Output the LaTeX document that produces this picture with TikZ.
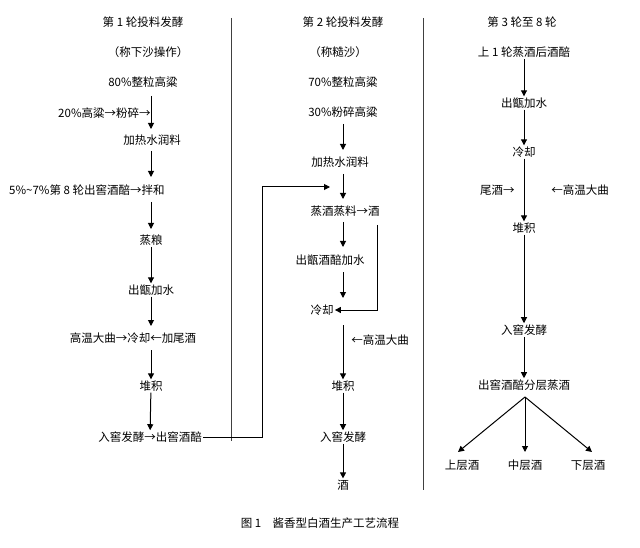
\documentclass[tikz,border=0pt]{standalone}
\usepackage{fontspec}
\setmainfont{Noto Sans CJK SC}
\usetikzlibrary{arrows.meta,positioning}
\begin{document}
\begin{tikzpicture}[x=1pt,y=-1pt, thick,
    lbl/.style = {inner sep=1pt, font=\fontsize{11.5}{13}\selectfont},
    flow/.style = {-{Triangle[length=6pt,width=6pt]}, line width=1pt},
    rule/.style = {line width=0.9pt, draw=black!75}]
    \useasboundingbox (0,0) rectangle (640,548);
    % column 1
    \node[lbl] (t1) at (143,22) {第 1 轮投料发酵};
    \node[lbl] (s1) at (148,52) {（称下沙操作）};
    \node[lbl] (a1) at (143,82) {80\%整粒高粱};
    \node[lbl, anchor=east] (f1) at (152,113) {20\%高粱→粉碎→};
    \node[lbl] (a2) at (152,140) {加热水润料};
    \node[lbl, anchor=east] (a3) at (166,190) {5\%\textasciitilde7\%第 8 轮出窖酒醅→拌和};
    \node[lbl] (a4) at (151,240) {蒸粮};
    \node[lbl] (a5) at (151,290) {出甑加水};
    \node[lbl] (a6) at (133,338) {高温大曲→冷却←加尾酒};
    \node[lbl] (a7) at (151,386) {堆积};
    \node[lbl] (a8) at (150,437) {入窖发酵→出窖酒醅};
    \draw[flow] (151,96) -- (151,129);
    \draw[flow] (151,151) -- (151,177);
    \draw[flow] (151,202) -- (151,229);
    \draw[flow] (a4) -- (a5);
    \draw[flow] (a5) -- (151,326);
    \draw[flow] (151,350) -- (a7);
    \draw[flow] (a7) -- (a8);
    % separators
    \draw[rule] (231,18) -- (231,441);
    \draw[rule] (423,18) -- (423,490);
    % column 2
    \node[lbl] (t2) at (343,22) {第 2 轮投料发酵};
    \node[lbl] (s2) at (338,52) {（称糙沙）};
    \node[lbl] (b1) at (343,82) {70\%整粒高粱};
    \node[lbl] (b2) at (343,112) {30\%粉碎高粱};
    \node[lbl] (b3) at (340,162) {加热水润料};
    \node[lbl] (b4) at (345,211) {蒸酒蒸料→酒};
    \node[lbl] (b5) at (330,260) {出甑酒醅加水};
    \node[lbl] (b6) at (322,310) {冷却};
    \node[lbl, anchor=west] (q2) at (350,340) {←高温大曲};
    \node[lbl] (b7) at (343,386) {堆积};
    \node[lbl] (b8) at (343,437) {入窖发酵};
    \node[lbl] (b9) at (343,485) {酒};
    \coordinate (j2) at (343,325);
    \draw[flow] (343,124) -- (343,150);
    \draw[flow] (343,174) -- (343,199);
    \draw[flow] (343,222) -- (343,247);
    \draw[flow] (343,272) -- (343,298);
    \draw[flow] (j2) -- (b7);
    \draw[flow] (b7) -- (b8);
    \draw[flow] (b8) -- (b9);
    \draw[flow] (377,225) |- (b6.east);
    \draw[flow] (a8.east) -| (262,187) -- (330,187);
    % column 3
    \node[lbl] (t3) at (522,22) {第 3 轮至 8 轮};
    \node[lbl] (c1) at (524,52) {上 1 轮蒸酒后酒醅};
    \node[lbl] (c2) at (524,103) {出甑加水};
    \node[lbl] (c3) at (524,152) {冷却};
    \node[lbl, anchor=east] (w3) at (516,190) {尾酒→};
    \node[lbl, anchor=west] (q3) at (550,190) {←高温大曲};
    \node[lbl] (c4) at (524,228) {堆积};
    \node[lbl] (c5) at (524,330) {入窖发酵};
    \node[lbl] (c6) at (524,385) {出窖酒醅分层蒸酒};
    \node[lbl] (d1) at (462,465) {上层酒};
    \node[lbl] (d2) at (525,465) {中层酒};
    \node[lbl] (d3) at (588,465) {下层酒};
    \draw[flow] (c1) -- (c2);
    \draw[flow] (c2) -- (c3);
    \draw[flow] (c3) -- (c4);
    \draw[flow] (c4) -- (c5);
    \draw[flow] (c5) -- (c6);
    \coordinate (fork) at (525,397);
    \draw[flow] (fork) -- (458,452);
    \draw[flow] (fork) -- (525,452);
    \draw[flow] (fork) -- (592,452);
    % caption
    \node[lbl] (cap) at (320,523) {图 1\quad 酱香型白酒生产工艺流程};
\end{tikzpicture}
\end{document}
